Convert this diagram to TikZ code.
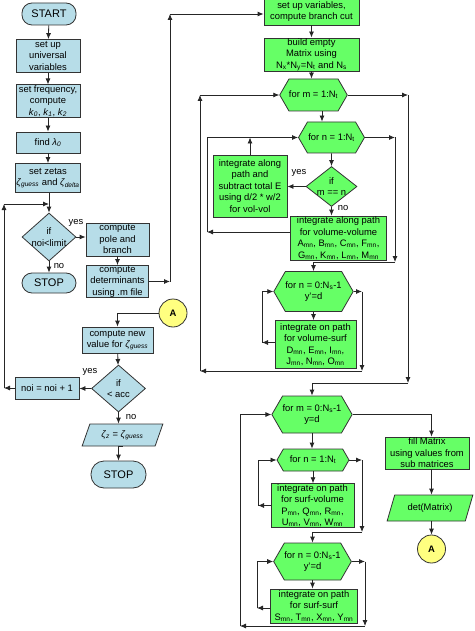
\documentclass[tikz,border=0pt]{standalone}
\usepackage{fontspec}
\setmainfont{Liberation Sans}
\usetikzlibrary{shapes.geometric,shapes.symbols,arrows.meta}
\definecolor{flowblue}{RGB}{183,221,232}
\definecolor{flowgreen}{RGB}{102,255,102}
\definecolor{flowyellow}{RGB}{255,255,128}
\newcommand{\sbs}[1]{\textsubscript{#1}}
\newcommand{\zguess}{\textit{ζ}\textsubscript{\textit{guess}}}
\tikzset{
	bluebox/.style={draw=black!80, fill=flowblue, line width=0.8pt, align=center, inner xsep=1pt, inner ysep=0.5pt},
	greenbox/.style={bluebox, fill=flowgreen},
	term/.style={bluebox, rounded corners=10pt, font=\fontsize{11}{13}\selectfont},
	decision/.style={diamond, draw=black!80, line width=0.8pt, align=center, inner xsep=-5pt, inner ysep=-2pt},
	loophex/.style={signal, signal to=east and west, signal pointer angle=120, draw=black!80, fill=flowgreen, line width=0.8pt, align=center, inner xsep=0pt, inner ysep=0.5pt},
	iobox/.style={trapezium, trapezium left angle=65, trapezium right angle=115, trapezium stretches=true, draw=black!80, line width=0.8pt, align=center, inner sep=1pt},
	offpage/.style={circle, draw=black!80, fill=flowyellow, line width=0.8pt, minimum size=28, inner sep=0pt, font=\fontsize{9.4}{11}\selectfont\bfseries},
	arr/.style={-{Latex[length=6pt,width=5pt]}, line width=0.8pt, draw=black!85},
	lbl/.style={inner sep=1pt},
}

\begin{document}
\begin{tikzpicture}[x=1pt, y=-1pt, font=\fontsize{9.4}{11.5}\selectfont]
		%%%%% START %%%%%
		\useasboundingbox (0, 0) rectangle (474, 631);
		
		% left column
		\node[term, minimum width=54, minimum height=22] (start) at (49, 14) {START};
		\node[bluebox, minimum width=64, minimum height=33] (univ) at (48, 56) {set up\\universal\\variables};
		\node[bluebox, minimum width=64, minimum height=32] (freq) at (48, 101) {set frequency,\\compute\\\textit{k}\sbs{\textit{0}}, \textit{k}\sbs{\textit{1}}, \textit{k}\sbs{\textit{2}}};
		\node[bluebox, minimum width=64, minimum height=21] (lambda) at (48, 142.5) {find \textit{λ}\sbs{\textit{0}}};
		\node[bluebox, minimum width=65, minimum height=29] (zeta) at (48, 178) {set zetas\\\zguess{} and \textit{ζ}\sbs{\textit{delta}}};
		\node[decision, fill=flowblue, minimum width=54, minimum height=48] (ifnoi) at (49, 237) {if\\noi<limit};
		\node[bluebox, minimum width=63, minimum height=33] (pole) at (117.5, 239.5) {compute\\pole and\\branch};
		\node[bluebox, minimum width=62, minimum height=31] (det) at (117.5, 281.5) {compute\\determinants\\using .m file};
		\node[term, minimum width=54, minimum height=20] (stop1) at (49, 283) {STOP};
		\node[offpage] (conA) at (173, 313) {A};
		\node[bluebox, minimum width=71, minimum height=26] (newval) at (117.5, 340) {compute new\\value for \zguess};
		\node[decision, fill=flowblue, minimum width=54, minimum height=47] (ifacc) at (118.5, 388.5) {if\\< acc};
		\node[bluebox, minimum width=64, minimum height=22] (noi) at (47, 388) {noi = noi + 1};
		\node[iobox, fill=flowblue, minimum width=81, minimum height=22] (zetaz) at (122.5, 435) {\textit{ζ}\sbs{\textit{z}} = \zguess};
		\node[term, rounded corners=13pt, minimum width=55, minimum height=27] (stop2) at (118.5, 474.5) {STOP};
		
		\node[lbl] (yes1) at (76, 222.5) {yes};
		\node[lbl] (no1) at (59, 266) {no};
		\node[lbl] (yes2) at (90, 372) {yes};
		\node[lbl] (no2) at (131, 417) {no};
		
		\coordinate (lx) at (4, 0);
		\coordinate (jz) at (49, 204);
		\coordinate (ux) at (170, 0);
		\coordinate (uy) at (0, 14);
		
		\draw[arr] (start) -- (univ);
		\draw[arr] (univ) -- (freq);
		\draw[arr] (freq) -- (lambda);
		\draw[arr] (lambda) -- (zeta);
		\draw[arr] (zeta.south -| jz) -- (ifnoi.north);
		\draw[arr] (noi.west) -- (noi.west -| lx);
		\draw[arr] (noi.west -| lx) -- (lx |- jz);
		\draw[arr] (lx |- jz) -- (jz);
		\draw[arr] (ifnoi.east) -- (pole.west |- ifnoi.east);
		\draw[arr] (ifnoi) -- (stop1);
		\draw[arr] (pole) -- (det);
		\draw[arr] (det.east) -- (det.east -| ux);
		\draw[arr] (det.east -| ux) -- (ux |- uy);
		\draw[arr] (conA.west) -| (newval.north);
		\draw[arr] (newval) -- (ifacc);
		\draw[arr] (ifacc.west) -- (noi.east |- ifacc.west);
		\draw[arr] (ifacc.south) -- (ifacc.south |- zetaz.north);
		\draw[arr] (zetaz.south) -- (zetaz.south -| stop2.north) -- (stop2.north);
		
		% right column
		\node[greenbox, minimum width=95, minimum height=27] (setvar) at (311.5, 11.5) {set up variables,\\compute branch cut};
		\node[greenbox, minimum width=95, minimum height=33] (build) at (311.5, 54.5) {build empty\\Matrix using\\N\sbs{x}*N\sbs{y}=N\sbs{t} and N\sbs{s}};
		\node[loophex, minimum width=66, minimum height=32] (mfor) at (313.5, 95) {for m = 1:N\sbs{t}};
		\node[loophex, minimum width=66, minimum height=31] (nfor) at (331.5, 137.5) {for n = 1:N\sbs{t}};
		\node[decision, fill=flowgreen, minimum width=51, minimum height=40] (ifmn) at (331.5, 186.5) {if\\m == n};
		\node[greenbox, minimum width=74, minimum height=62] (subtr) at (250, 186) {integrate along\\path and\\subtract total E\\using d/2 * w/2\\for vol-vol};
		\node[greenbox, minimum width=96, minimum height=44] (volvol) at (338.5, 238) {integrate along path\\for volume-volume\\A\sbs{mn}, B\sbs{mn}, C\sbs{mn}, F\sbs{mn},\\G\sbs{mn}, K\sbs{mn}, L\sbs{mn}, M\sbs{mn}};
		\node[loophex, minimum width=71, minimum height=40] (nsfor) at (313.5, 291.5) {for n = 0:N\sbs{s}-1\\y'=d};
		\node[greenbox, minimum width=81, minimum height=48] (volsurf) at (315.5, 344.5) {integrate on path\\for volume-surf\\D\sbs{mn}, E\sbs{mn}, I\sbs{mn},\\J\sbs{mn}, N\sbs{mn}, O\sbs{mn}};
		\node[loophex, minimum width=78, minimum height=37] (msfor) at (312, 414.5) {for m = 0:N\sbs{s}-1\\y=d};
		\node[loophex, minimum width=72, minimum height=22] (ntfor) at (313, 460) {for n = 1:N\sbs{t}};
		\node[greenbox, minimum width=83, minimum height=43] (surfvol) at (312.5, 505.5) {integrate on path\\for surf-volume\\P\sbs{mn}, Q\sbs{mn}, R\sbs{mn},\\U\sbs{mn}, V\sbs{mn}, W\sbs{mn}};
		\node[loophex, minimum width=75, minimum height=37] (nsfor2) at (312.5, 561.5) {for n = 0:N\sbs{s}-1\\y'=d};
		\node[greenbox, minimum width=87, minimum height=34] (surfsurf) at (314, 606) {integrate on path\\for surf-surf\\S\sbs{mn}, T\sbs{mn}, X\sbs{mn}, Y\sbs{mn}};
		\node[greenbox, minimum width=84, minimum height=32] (fill) at (427, 453) {fill Matrix\\using values from\\sub matrices};
		\node[iobox, fill=flowgreen, minimum width=86, minimum height=26] (detm) at (430, 508) {det(Matrix)};
		\node[offpage] (conA2) at (431.5, 549) {A};
		
		\node[lbl] (yes3) at (299, 173) {yes};
		\node[lbl] (no3) at (343, 208.5) {no};
		
		\coordinate (cm) at (322, 0);
		\coordinate (mx) at (200, 0);
		\coordinate (mr) at (408, 383);
		\coordinate (nx) at (207, 0);
		\coordinate (nr) at (395, 262);
		\coordinate (sx) at (262, 0);
		\coordinate (sr) at (362, 371);
		\coordinate (px) at (240, 626);
		\coordinate (qx) at (258, 0);
		\coordinate (qr) at (362, 532);
		\coordinate (tx) at (257, 0);
		\coordinate (tr) at (365, 626);
		\coordinate (fx) at (431.5, 0);
		
		\draw[arr] (ux |- uy) -- (setvar.west |- uy);
		\draw[arr] (setvar) -- (build);
		\draw[arr] (build.south) -- (build.south |- mfor.north);
		\draw[arr] (mfor.south -| cm) -- (nfor.north -| cm);
		\draw[arr] (nfor) -- (ifmn);
		\draw[arr] (ifmn.west) -- (ifmn.west -| subtr.east);
		\draw[arr] (ifmn.south) -- (ifmn.south |- volvol.north);
		\draw[arr] (subtr.north) -- (subtr.north |- nfor.west);
		\draw[arr] ([yshift=6pt]volvol.west) -- ([yshift=6pt]volvol.west -| nx);
		\draw[arr] ([yshift=6pt]volvol.west -| nx) |- (nfor.west);
		\draw[arr] (nfor.east) -- (nfor.east -| nr);
		\draw[arr] (nfor.east -| nr) -- (nr);
		\draw[arr] (nr) -| (nsfor.north);
		\draw[arr] (nsfor.south) -- (nsfor.south |- volsurf.north);
		\draw[arr] ([yshift=2pt]volsurf.west) -- ([yshift=2pt]volsurf.west -| sx);
		\draw[arr] ([yshift=2pt]volsurf.west -| sx) |- (nsfor.west);
		\draw[arr] (nsfor.east) -- (nsfor.east -| sr);
		\draw[arr] (nsfor.east -| sr) -- (sr);
		\draw[arr] (sr) -- (sr -| mx);
		\draw[arr] (sr -| mx) -- (mx |- mfor.west);
		\draw[arr] (mx |- mfor.west) -- (mfor.west);
		\draw[arr] (mfor.east) -- (mfor.east -| mr);
		\draw[arr] (mfor.east -| mr) -- (mr);
		\draw[arr] (mr) -| (msfor.north);
		\draw[arr] (msfor.south) -- (msfor.south |- ntfor.north);
		\draw[arr] (ntfor.south) -- (ntfor.south |- surfvol.north);
		\draw[arr] (surfvol.west) -- (surfvol.west -| qx);
		\draw[arr] (surfvol.west -| qx) |- (ntfor.west);
		\draw[arr] (ntfor.east) -- (ntfor.east -| qr);
		\draw[arr] (ntfor.east -| qr) -- (qr);
		\draw[arr] (qr) -| (nsfor2.north);
		\draw[arr] (nsfor2.south) -- (nsfor2.south |- surfsurf.north);
		\draw[arr] ([yshift=-2pt]surfsurf.west) -- ([yshift=-2pt]surfsurf.west -| tx);
		\draw[arr] ([yshift=-2pt]surfsurf.west -| tx) |- (nsfor2.west);
		\draw[arr] (nsfor2.east) -- (nsfor2.east -| tr);
		\draw[arr] (nsfor2.east -| tr) -- (tr);
		\draw[arr] (tr) -- (px);
		\draw[arr] (px) |- (msfor.west);
		\draw[arr] (msfor.east) -| (fx |- fill.north);
		\draw[arr] (fx |- fill.south) -- (fx |- detm.north);
		\draw[arr] (fx |- detm.south) -- (conA2);
		%%%%% END %%%%%
	\end{tikzpicture}
\end{document}
